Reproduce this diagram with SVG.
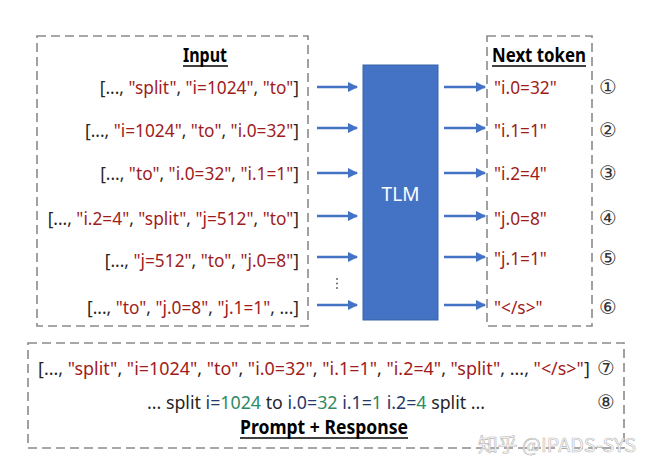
<svg xmlns="http://www.w3.org/2000/svg" width="654" height="474" viewBox="0 0 654 474">
<defs>
<marker id="ah" viewBox="0 0 10 10" refX="9" refY="5" markerWidth="4" markerHeight="4" orient="auto" markerUnits="strokeWidth">
<path d="M0,0 L10,5 L0,10 z" fill="#4472C4"/>
</marker>
<style>
.box{fill:none;stroke:#8a8a8a;stroke-width:1.6;stroke-dasharray:9 5}
.t{font-family:"Noto Sans","Open Sans",sans-serif;font-size:17.3px;fill:#262626}
.h{font-family:"Noto Sans","Open Sans",sans-serif;font-size:19px;font-weight:bold;fill:#000}
.r{fill:#A01C1C}
.g{fill:#2E8B63}
.b{fill:#1F3A6B}
.ul{stroke:#000;stroke-width:1.3}
.arr{stroke:#4472C4;stroke-width:2.6;fill:none;marker-end:url(#ah)}
.num{font-family:"DejaVu Sans",sans-serif;font-size:20px;fill:#333}
</style>
</defs>
<rect width="654" height="474" fill="#fff"/>

<g id="input">
<rect class="box" x="37" y="36" width="271" height="290"/>
<text class="h" x="205" y="62" text-anchor="middle" textLength="44" lengthAdjust="spacingAndGlyphs">Input</text>
<line class="ul" x1="183" y1="66" x2="228" y2="66"/>
<text class="t" x="299" y="93.5" text-anchor="end">[..., <tspan class="r">"split"</tspan>, <tspan class="r">"i=1024"</tspan>, <tspan class="r">"to"</tspan>]</text>
<text class="t" x="299" y="136.5" text-anchor="end">[..., <tspan class="r">"i=1024"</tspan>, <tspan class="r">"to"</tspan>, <tspan class="r">"i.0=32"</tspan>]</text>
<text class="t" x="299" y="179.5" text-anchor="end">[..., <tspan class="r">"to"</tspan>, <tspan class="r">"i.0=32"</tspan>, <tspan class="r">"i.1=1"</tspan>]</text>
<text class="t" x="299" y="224.5" text-anchor="end">[..., <tspan class="r">"i.2=4"</tspan>, <tspan class="r">"split"</tspan>, <tspan class="r">"j=512"</tspan>, <tspan class="r">"to"</tspan>]</text>
<text class="t" x="299" y="266.5" text-anchor="end">[..., <tspan class="r">"j=512"</tspan>, <tspan class="r">"to"</tspan>, <tspan class="r">"j.0=8"</tspan>]</text>
<text class="t" x="299" y="313.5" text-anchor="end">[..., <tspan class="r">"to"</tspan>, <tspan class="r">"j.0=8"</tspan>, <tspan class="r">"j.1=1"</tspan>, ...]</text>
</g>

<g id="tlm">
<rect x="363" y="65" width="75" height="255" fill="#4472C4" stroke="#3A62A8" stroke-width="1"/>
<text x="400.5" y="201" text-anchor="middle" font-family="Noto Sans, sans-serif" font-size="19" fill="#fff">TLM</text>
</g>

<g id="next-token">
<rect class="box" x="487" y="36" width="105" height="290"/>
<text class="h" x="539" y="62" text-anchor="middle" textLength="94" lengthAdjust="spacingAndGlyphs">Next token</text>
<line class="ul" x1="492" y1="66" x2="586" y2="66"/>
<text class="t r" x="494" y="93.5">"i.0=32"</text>
<text class="t r" x="494" y="136.5">"i.1=1"</text>
<text class="t r" x="494" y="179.5">"i.2=4"</text>
<text class="t r" x="494" y="224.5">"j.0=8"</text>
<text class="t r" x="494" y="264.5">"j.1=1"</text>
<text class="t r" x="494" y="313.5">"&lt;/s&gt;"</text>
</g>

<g id="numbers">
<text class="num" x="608" y="94" text-anchor="middle">①</text>
<text class="num" x="608" y="137" text-anchor="middle">②</text>
<text class="num" x="608" y="180" text-anchor="middle">③</text>
<text class="num" x="608" y="225" text-anchor="middle">④</text>
<text class="num" x="608" y="265" text-anchor="middle">⑤</text>
<text class="num" x="608" y="314" text-anchor="middle">⑥</text>
<text class="num" x="606" y="375" text-anchor="middle">⑦</text>
<text class="num" x="606" y="409" text-anchor="middle">⑧</text>
</g>

<g id="connectors">
<line class="arr" x1="317" y1="87" x2="357" y2="87"/>
<line class="arr" x1="317" y1="128" x2="357" y2="128"/>
<line class="arr" x1="317" y1="173" x2="357" y2="173"/>
<line class="arr" x1="317" y1="216" x2="357" y2="216"/>
<line class="arr" x1="317" y1="257" x2="357" y2="257"/>
<line class="arr" x1="317" y1="305" x2="357" y2="305"/>
<line class="arr" x1="444" y1="87" x2="485" y2="87"/>
<line class="arr" x1="444" y1="128" x2="485" y2="128"/>
<line class="arr" x1="444" y1="173" x2="485" y2="173"/>
<line class="arr" x1="444" y1="216" x2="485" y2="216"/>
<line class="arr" x1="444" y1="257" x2="485" y2="257"/>
<line class="arr" x1="444" y1="305" x2="485" y2="305"/>
<g fill="#555"><circle cx="337" cy="279" r="0.9"/><circle cx="337" cy="283.5" r="0.9"/><circle cx="337" cy="288" r="0.9"/></g>
</g>

<g id="prompt-response">
<rect class="box" x="28" y="343" width="596" height="105"/>
<text class="t" x="38" y="374.5" style="font-size:17.9px">[..., <tspan class="r">"split"</tspan>, <tspan class="r">"i=1024"</tspan>, <tspan class="r">"to"</tspan>, <tspan class="r">"i.0=32"</tspan>, <tspan class="r">"i.1=1"</tspan>, <tspan class="r">"i.2=4"</tspan>, <tspan class="r">"split"</tspan>, ..., <tspan class="r">"&lt;/s&gt;"</tspan>]</text>
<text class="t" x="147" y="408.5" style="font-size:17.8px">... split <tspan class="b">i=</tspan><tspan class="g">1024</tspan> to <tspan class="b">i.0=</tspan><tspan class="g">32</tspan> <tspan class="b">i.1=</tspan><tspan class="g">1</tspan> <tspan class="b">i.2=</tspan><tspan class="g">4</tspan> split ...</text>
<text class="h" x="324" y="434" text-anchor="middle" textLength="168" lengthAdjust="spacingAndGlyphs">Prompt + Response</text>
<line class="ul" x1="240" y1="438" x2="408" y2="438"/>
</g>

<text x="478" y="452" font-family="Noto Sans CJK SC, sans-serif" font-size="19" fill="#fff" stroke="#b8b8b8" stroke-width="0.6" textLength="158" lengthAdjust="spacingAndGlyphs">知乎 @IPADS-SYS</text>
</svg>
